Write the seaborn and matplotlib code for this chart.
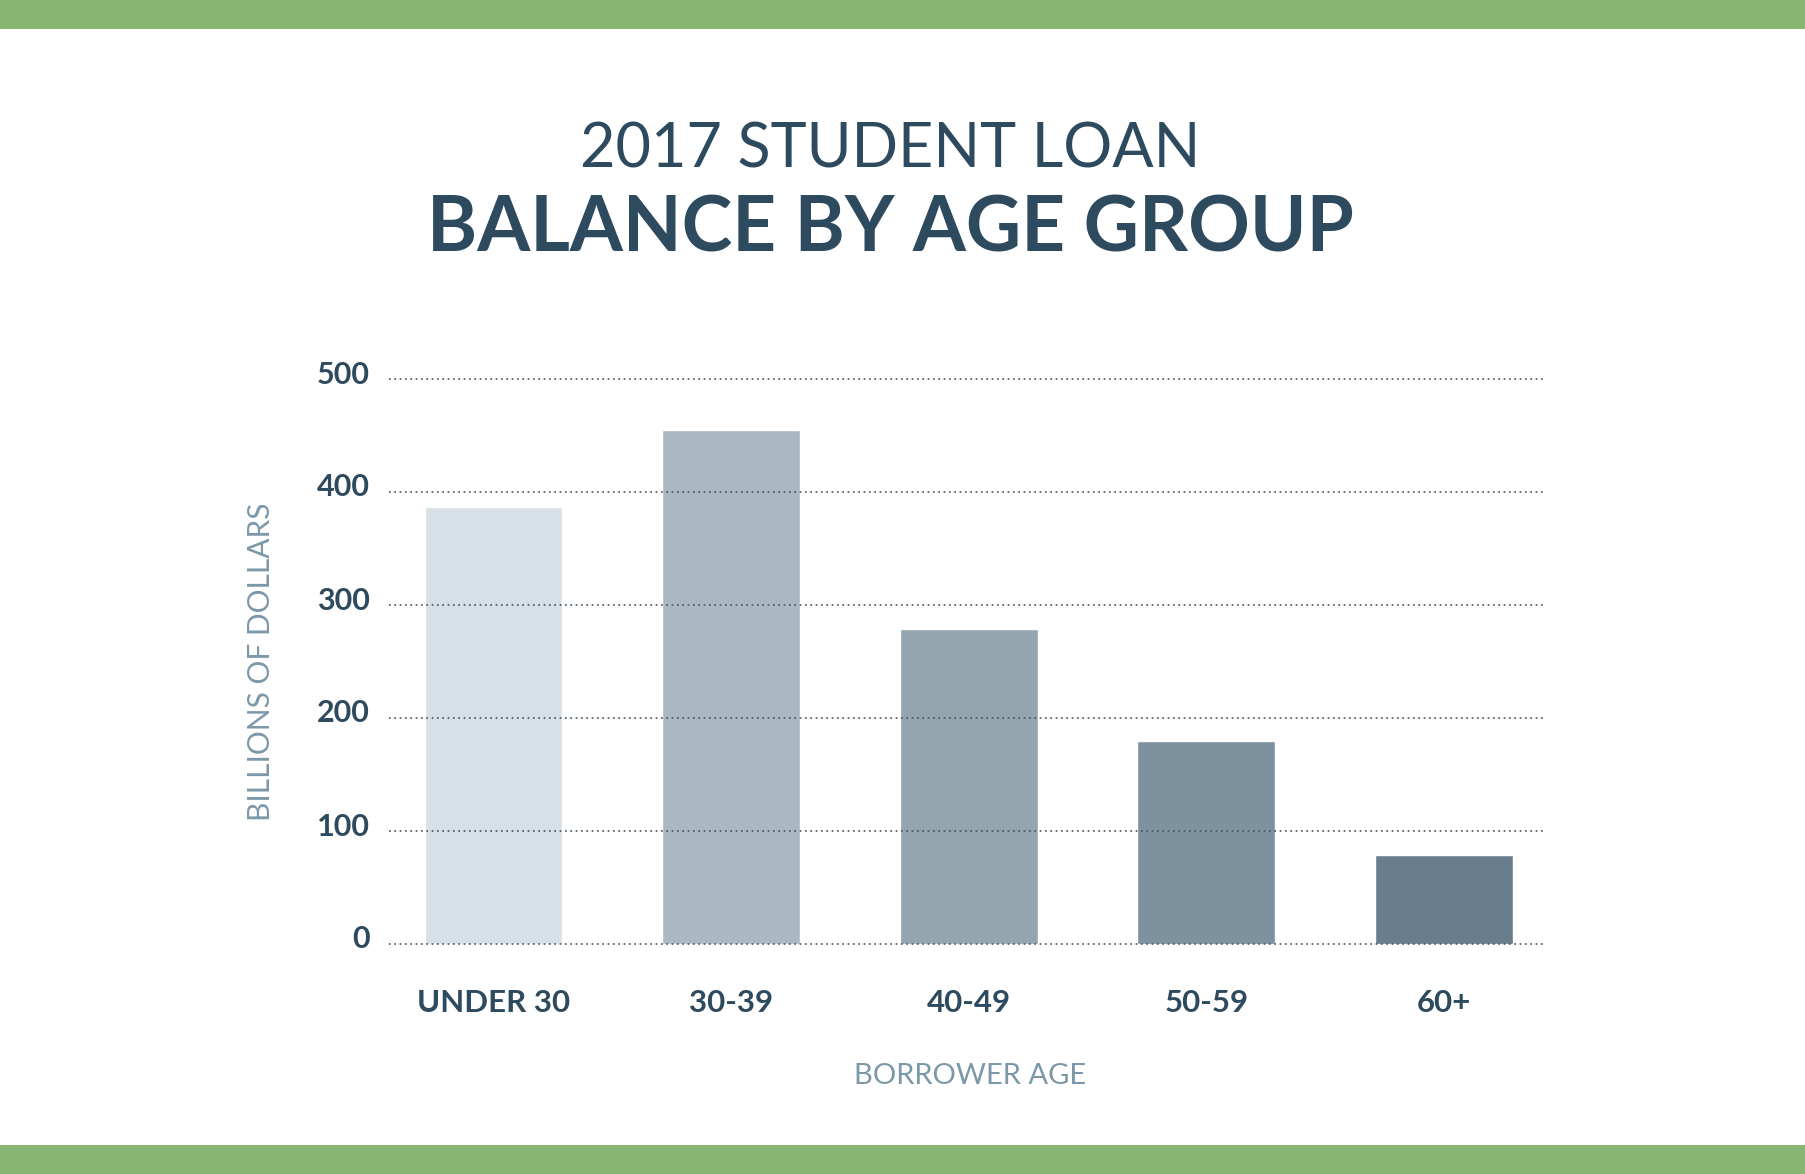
import matplotlib
matplotlib.use("Agg")
import matplotlib.pyplot as plt
import matplotlib.transforms as mtransforms
import seaborn as sns
import pandas as pd
from matplotlib.patches import Rectangle

# ---- data ----
categories = ["UNDER 30", "30-39", "40-49", "50-59", "60+"]
balances = [387, 455, 279, 180, 79]
yticks = [0, 100, 200, 300, 400, 500]
bar_colors = ["#d6e0e6", "#aab8c1", "#94a5b0", "#7d919e", "#687e8d"]

title_line1 = "2017 STUDENT LOAN"
title_line2 = "BALANCE BY AGE GROUP"
x_label = "BORROWER AGE"
y_label = "BILLIONS OF DOLLARS"

dark = "#2e4a5f"
muted = "#7b98a9"
green = "#89b572"

sns.set_theme(style="white")
plt.rcParams["font.family"] = ["Lato", "DejaVu Sans"]

W, H = 1806, 1174
fig = plt.figure(figsize=(W / 100, H / 100), dpi=100)
fig.patch.set_facecolor("white")

# green bands
fig.patches.append(Rectangle((0, 1 - 29 / H), 1, 29 / H, transform=fig.transFigure,
                             facecolor=green, edgecolor="none", zorder=0))
fig.patches.append(Rectangle((0, 0), 1, 29 / H, transform=fig.transFigure,
                             facecolor=green, edgecolor="none", zorder=0))

# axes
left = 389 / W
right = 1546 / W
bottom = 1 - 949.65 / H
top = 1 - 373.35 / H
ax = fig.add_axes([left, bottom, right - left, top - bottom])

df = pd.DataFrame({"age": categories, "balance": balances})
sns.barplot(data=df, x="age", y="balance", hue="age", palette=bar_colors,
            width=0.58, legend=False, ax=ax, saturation=1, zorder=2)

ax.set_ylim(-5, 505)
ax.set_xlim(-0.44, 4.43)
ax.set_yticks(yticks)
ax.set_yticklabels([str(t) for t in yticks])
for s in ax.spines.values():
    s.set_visible(False)
ax.grid(axis="y", linestyle=(0, (1, 2.2)), color="#44505c", linewidth=1.2, zorder=3)
ax.grid(axis="x", visible=False)
ax.set_axisbelow(False)
ax.tick_params(axis="both", length=0)
ax.tick_params(axis="y", pad=14)
ax.tick_params(axis="x", pad=28)
up = mtransforms.ScaledTranslation(0, 7 / 100, fig.dpi_scale_trans)
for lab in ax.get_yticklabels():
    lab.set_fontsize(22)
    lab.set_fontweight("bold")
    lab.set_color(dark)
    lab.set_transform(lab.get_transform() + up)
for lab in ax.get_xticklabels():
    lab.set_fontsize(22.5)
    lab.set_fontweight("bold")
    lab.set_color(dark)
ax.set_xlabel("")
ax.set_ylabel("")

# axis titles
fig.text(970 / W, 1 - 1076 / H, x_label, ha="center", va="center",
         fontsize=21, color=muted, fontweight="normal")
fig.text(261 / W, 1 - 662 / H, y_label, ha="center", va="center",
         rotation=90, fontsize=21.5, color=muted, fontweight="normal")

# titles
fig.text(890 / W, 1 - 150 / H, title_line1, ha="center", va="center",
         fontsize=44, color=dark, fontweight="normal")
fig.text(890 / W, 1 - 229 / H, title_line2, ha="center", va="center",
         fontsize=55, color=dark, fontweight="bold")

fig.savefig("out.png", dpi=100, facecolor="white")
